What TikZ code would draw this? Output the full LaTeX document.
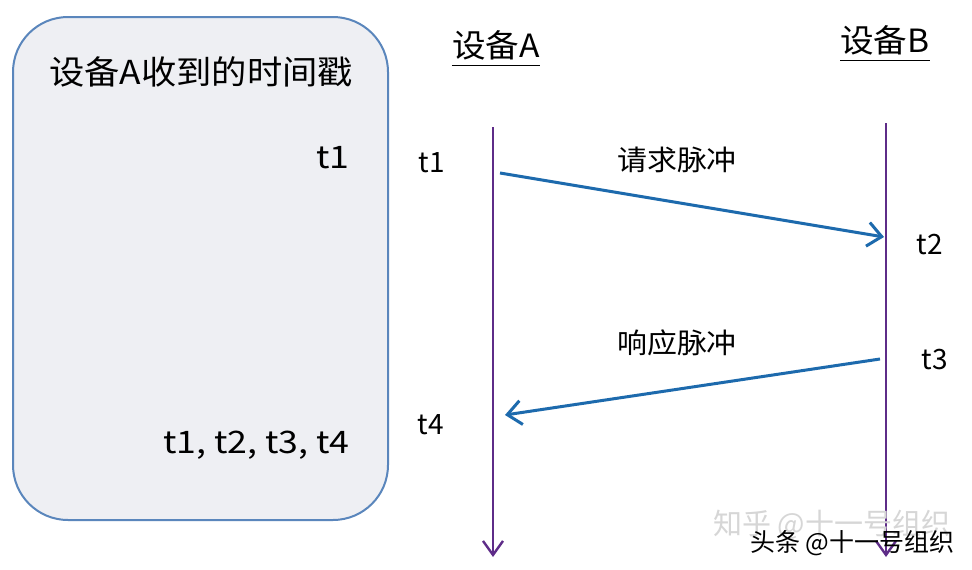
\documentclass[tikz,border=0pt]{standalone}
\usepackage{fontspec}
\setmainfont{Noto Sans CJK SC}
\usetikzlibrary{arrows.meta}
\definecolor{boxfill}{HTML}{EEEFF3}
\definecolor{boxline}{HTML}{5A86BC}
\definecolor{lifeline}{HTML}{5E2C88}
\definecolor{msg}{HTML}{1D6AAD}
\tikzset{
  lbl/.style={inner sep=0pt, font=\fontsize{28}{30}\selectfont},
  boxlbl/.style={inner sep=0pt, anchor=east, xscale=1.15, font=\fontsize{31}{34}\selectfont},
  msglbl/.style={inner sep=0pt, xscale=1.07, font=\fontsize{28}{30}\selectfont},
  dev/.style={inner sep=0pt, xscale=1.05, font=\fontsize{32}{35}\selectfont},
  life/.style={draw=lifeline, line width=2.4pt, -{Straight Barb[length=14pt,width=20pt,line width=2.4pt]}},
  msgarrow/.style={draw=msg, line width=3pt, -{Straight Barb[length=14pt,width=24pt,line width=3pt]}},
}
\begin{document}
\begin{tikzpicture}[x=1pt,y=-1pt]
\useasboundingbox[fill=white] (0,0) rectangle (972,570);
% left box
\node[draw=boxline, fill=boxfill, line width=2pt, rounded corners=55pt,
      minimum width=375pt, minimum height=503pt, inner sep=0pt] (box) at (200.5,268.5) {};
\node[inner sep=0pt, xscale=1.07, font=\fontsize{33}{36}\selectfont] (title) at (201,72) {设备A收到的时间戳};
\node[boxlbl] (bt1) at (350,158) {t1};
\node[boxlbl] (ball) at (350,445) {t1, t2, t3, t4};
% device headers
\node[dev] (devA) at (496,45) {设备A};
\node[dev] (devB) at (885,40) {设备B};
\draw[line width=1.2pt] ([yshift=-8pt]devA.base west) -- ([yshift=-8pt]devA.base east);
\draw[line width=1.2pt] ([yshift=-8pt]devB.base west) -- ([yshift=-8pt]devB.base east);
% lifelines
\coordinate (Atop) at (493,127);
\coordinate (Abot) at (493,557);
\coordinate (Btop) at (886,123);
\coordinate (Bbot) at (886,557);
\draw[life] (Atop) -- (Abot);
\draw[life] (Btop) -- (Bbot);
% time labels
\node[lbl] (t1) at (432,163) {t1};
\node[lbl] (t2) at (930,245) {t2};
\node[lbl] (t3) at (935,360) {t3};
\node[lbl] (t4) at (431,425) {t4};
% messages
\coordinate (req1) at (500,173);
\coordinate (req2) at (884,237);
\coordinate (res1) at (880,359);
\coordinate (res2) at (505,415);
\draw[msgarrow] (req1) -- (req2);
\draw[msgarrow] (res1) -- (res2);
\node[msglbl] (reqlbl) at (677,160) {请求脉冲};
\node[msglbl] (reslbl) at (677,343) {响应脉冲};
% watermarks
\node[inner sep=0pt, text=black!16, font=\fontsize{29}{31}\selectfont, anchor=west] (wm1) at (713,525) {知乎 @十一号组织};
\node[inner sep=0pt, fill=white, fill opacity=0, text opacity=1, font=\fontsize{25}{28}\selectfont, anchor=west] (wm2) at (750,543) {头条 @十一号组织};
\end{tikzpicture}
\end{document}
